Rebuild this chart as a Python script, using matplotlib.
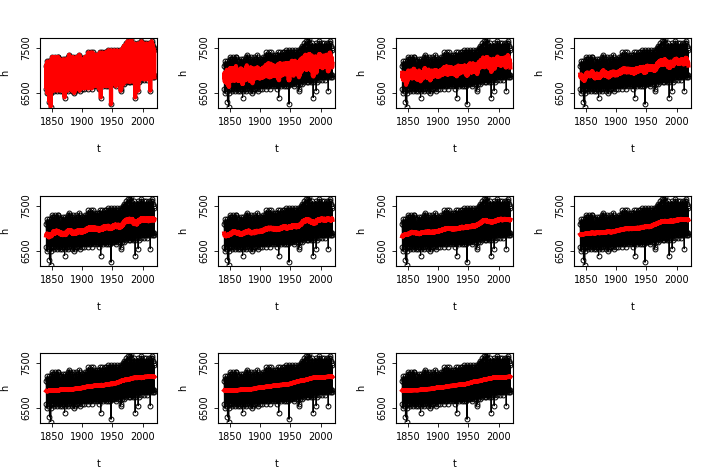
import numpy as np
import matplotlib
matplotlib.use("Agg")
import matplotlib.pyplot as plt

years = list(range(1840, 2020))
highs = [7100,7150,7200,7050,7150,7200,7100,7150,7200,7250,
 7300,7200,7150,7250,7300,7200,7100,7150,7250,7300,
 7300,7200,7250,7150,7100,7050,7150,7200,7250,7200,
 7100,7150,7250,7200,7100,7200,7250,7300,7350,7300,
 7250,7200,7150,7250,7300,7200,7150,7100,7200,7250,
 7300,7200,7150,7200,7250,7350,7300,7200,7150,7200,
 7250,7200,7150,7250,7300,7200,7150,7250,7300,7350,
 7400,7300,7250,7350,7400,7300,7250,7400,7300,7250,
 7300,7350,7250,7300,7350,7250,7200,7300,7350,7400,
 7300,7250,7350,7400,7350,7300,7250,7350,7400,7400,
 7350,7300,7400,7450,7350,7300,7400,7450,7400,7350,
 7350,7400,7450,7400,7350,7300,7400,7450,7400,7350,
 7300,7350,7400,7450,7400,7350,7450,7500,7450,7550,
 7500,7450,7550,7600,7550,7650,7500,7450,7550,7650,
 7600,7700,7550,7500,7450,7550,7600,7500,7400,7450,
 7500,7550,7600,7550,7500,7450,7550,7600,7650,7550,
 7500,7550,7600,7500,7450,7550,7600,7550,7500,7550,
 7600,7550,7500,7550,7600,7650,7600,7550,7500,7450]
lows = [6600,6500,6550,6600,6700,6300,6650,6200,6500,6600,
 6650,6600,6550,6600,6650,6700,6600,6550,6650,6700,
 6650,6600,6550,6600,6650,6600,6550,6700,6650,6600,
 6400,6550,6600,6650,6600,6550,6650,6700,6600,6650,
 6650,6600,6550,6650,6700,6600,6500,6550,6650,6600,
 6600,6650,6700,6650,6600,6550,6650,6700,6650,6600,
 6650,6700,6650,6600,6700,6750,6700,6650,6700,6600,
 6700,6650,6700,6750,6650,6600,6700,6750,6700,6650,
 6700,6750,6700,6650,6700,6750,6700,6600,6650,6700,
 6400,6700,6750,6700,6650,6700,6750,6700,6650,6700,
 6750,6700,6650,6700,6750,6700,6650,6250,6700,6750,
 6700,6750,6800,6750,6700,6650,6750,6800,6750,6700,
 6750,6800,6700,6550,6600,6700,6800,6750,6700,6800,
 6850,6800,6750,6800,6850,6800,6750,6850,6800,6750,
 6800,6850,6800,6750,6800,6850,6750,6400,6800,6850,
 6850,6800,6550,6750,6850,6900,6800,6850,6900,6850,
 6900,6850,6800,6850,6900,6850,6800,6900,6850,6900,
 6850,6900,6550,6850,6900,6950,6900,6850,6900,6850]
windows = [1, 3, 5, 9, 15, 21, 31, 45, 61, 81, 101]

t = []
h = []
for y, hi, lo in zip(years, highs, lows):
    t += [y + 0.25, y + 0.75]
    h += [hi, lo]
t = np.array(t); h = np.array(h, dtype=float)

def smooth(v, w):
    if w == 1:
        return v.copy()
    k = w // 2
    out = np.empty_like(v)
    for i in range(len(v)):
        a, b = max(0, i - k), min(len(v), i + k + 1)
        out[i] = v[a:b].mean()
    return out

fig = plt.figure(figsize=(7.1, 4.72), dpi=100)
W, H = 710, 472
lefts = [40, 218, 396, 574]
tops = [38, 196, 353]
for idx, w in enumerate(windows):
    r, c = divmod(idx, 4)
    ax = fig.add_axes([lefts[c] / W, 1 - (tops[r] + 70) / H, 117 / W, 70 / H])
    ax.plot(t, h, '-', color='black', lw=0.8)
    ax.plot(t, h, 'o', mfc='none', mec='black', ms=3.5, mew=0.7)
    ax.plot(t, smooth(h, w), '-', color='red', lw=3)
    ax.set_xlim(1830, 2024)
    ax.set_ylim(6167, 7722)
    ax.set_xticks([1850, 1900, 1950, 2000])
    ax.set_yticks([6500, 7500])
    ax.tick_params(labelsize=7, length=3, width=0.6)
    for lab in ax.get_yticklabels():
        lab.set_rotation(90); lab.set_va('center')
    ax.set_xlabel('t', fontsize=7, labelpad=12)
    ax.set_ylabel('h', fontsize=7, labelpad=8)
    for s in ax.spines.values():
        s.set_linewidth(0.8)
fig.savefig('out.png', dpi=100)
